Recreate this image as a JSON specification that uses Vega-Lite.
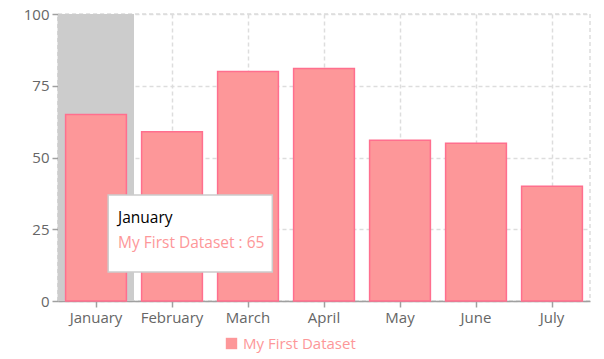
{
  "$schema": "https://vega.github.io/schema/vega-lite/v6.json",
  "width": 532,
  "height": 287,
  "autosize": {"type": "none"},
  "padding": {"left": 58, "top": 14, "right": 14, "bottom": 58},
  "config": {
    "font": "Open Sans",
    "view": {"stroke": "#dddddd", "strokeDash": [4, 3], "strokeWidth": 1.5},
    "axis": {
      "labelFont": "Open Sans",
      "labelFontSize": 15,
      "labelColor": "#666666",
      "domainColor": "#a0a0a0",
      "domainWidth": 1.5,
      "tickColor": "#a0a0a0",
      "tickWidth": 1.5,
      "tickSize": 6,
      "gridColor": "#dddddd",
      "gridDash": [4, 3],
      "gridWidth": 1.5,
      "title": null
    }
  },
  "datasets": {
    "main": [
      {"month": "January", "value": 65, "dataset": "My First Dataset"},
      {"month": "February", "value": 59, "dataset": "My First Dataset"},
      {"month": "March", "value": 80, "dataset": "My First Dataset"},
      {"month": "April", "value": 81, "dataset": "My First Dataset"},
      {"month": "May", "value": 56, "dataset": "My First Dataset"},
      {"month": "June", "value": 55, "dataset": "My First Dataset"},
      {"month": "July", "value": 40, "dataset": "My First Dataset"}
    ]
  },
  "resolve": {"scale": {"x": "independent"}, "axis": {"x": "independent"}},
  "layer": [
    {
      "layer": [
        {
          "data": {"values": [{"month": "January", "value": 100}]},
          "mark": {"type": "bar", "color": "#cccccc", "width": {"band": 1.25}},
          "encoding": {
            "x": {"field": "month", "type": "nominal", "sort": null,
                  "scale": {"domain": ["January", "February", "March", "April", "May", "June", "July"], "paddingInner": 0.2, "paddingOuter": 0.1},
                  "axis": {"labelAngle": 0, "grid": true, "labelPadding": 3}},
            "y": {"field": "value", "type": "quantitative", "scale": {"domain": [0, 100]},
                  "axis": {"values": [0, 25, 50, 75, 100], "grid": true, "labelPadding": 3}}
          }
        },
        {
          "data": {"name": "main"},
          "mark": {"type": "bar", "stroke": "#ff6f8e", "strokeWidth": 1.5, "opacity": 1},
          "encoding": {
            "x": {"field": "month", "type": "nominal", "sort": null},
            "y": {"field": "value", "type": "quantitative"},
            "color": {"field": "dataset", "type": "nominal",
                      "scale": {"range": ["#fd9799"]},
                      "legend": {"orient": "none", "legendX": 166, "legendY": 322, "direction": "horizontal",
                                 "title": null, "symbolType": "square", "symbolSize": 130,
                                 "symbolStrokeWidth": 0, "labelColor": "#fd9799", "labelFontSize": 15,
                                 "labelFont": "Open Sans"}}
          }
        }
      ]
    },
    {
      "data": {"values": [{"x1": 0.66, "x2": 2.82, "y1": 10.1, "y2": 36.9}]},
      "mark": {"type": "rect", "fill": "#ffffff", "stroke": "#cccccc", "strokeWidth": 1.5},
      "encoding": {
        "x": {"field": "x1", "type": "quantitative", "scale": {"domain": [0, 7], "nice": false}, "axis": null},
        "x2": {"field": "x2"},
        "y": {"field": "y1", "type": "quantitative"},
        "y2": {"field": "y2"}
      }
    },
    {
      "data": {"values": [{"x": 0.79, "y": 28.9, "label": "January"}]},
      "mark": {"type": "text", "align": "left", "baseline": "middle", "fontSize": 15.5, "color": "#000000", "font": "Open Sans"},
      "encoding": {
        "x": {"field": "x", "type": "quantitative", "scale": {"domain": [0, 7], "nice": false}, "axis": null},
        "y": {"field": "y", "type": "quantitative"},
        "text": {"field": "label"}
      }
    },
    {
      "data": {"values": [{"x": 0.79, "y": 20.2, "label": "My First Dataset : 65"}]},
      "mark": {"type": "text", "align": "left", "baseline": "middle", "fontSize": 15.5, "color": "#fd9799", "font": "Open Sans"},
      "encoding": {
        "x": {"field": "x", "type": "quantitative", "scale": {"domain": [0, 7], "nice": false}, "axis": null},
        "y": {"field": "y", "type": "quantitative"},
        "text": {"field": "label"}
      }
    }
  ]
}
